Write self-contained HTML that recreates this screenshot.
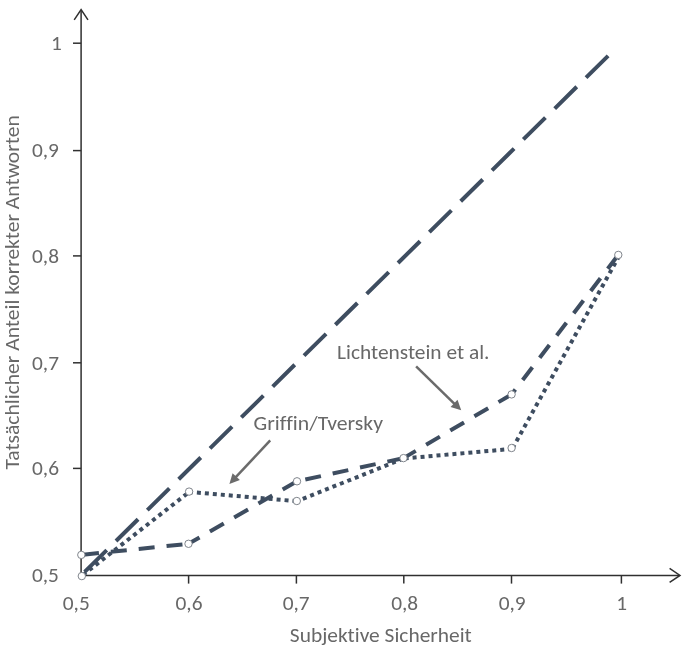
<!DOCTYPE html>
<html><head><meta charset="utf-8"><title>Chart</title>
<style>html,body{margin:0;padding:0;background:#fff;}svg{display:block;}</style>
</head><body>
<svg width="685" height="649" viewBox="0 0 685 649">
<rect width="685" height="649" fill="#fff"/>
<g stroke="#303030" stroke-width="1.5" fill="none">
<line x1="81.1" y1="575.4" x2="81.1" y2="10.4"/>
<line x1="81.1" y1="575.4" x2="679.2" y2="575.4"/>
<polyline points="74.2,19.8 81.1,9.7 88.0,19.8" stroke-linejoin="miter"/>
<polyline points="669.6,568.4 680.0,575.4 669.6,582.4" stroke-linejoin="miter"/>
<line x1="73" y1="468.4" x2="81.1" y2="468.4"/>
<line x1="73" y1="362.8" x2="81.1" y2="362.8"/>
<line x1="73" y1="255.9" x2="81.1" y2="255.9"/>
<line x1="73" y1="150.6" x2="81.1" y2="150.6"/>
<line x1="73" y1="43.2" x2="81.1" y2="43.2"/>
<line x1="188.6" y1="575.4" x2="188.6" y2="583.6"/>
<line x1="296.4" y1="575.4" x2="296.4" y2="583.6"/>
<line x1="403.8" y1="575.4" x2="403.8" y2="583.6"/>
<line x1="511.5" y1="575.4" x2="511.5" y2="583.6"/>
<line x1="621.4" y1="575.4" x2="621.4" y2="583.6"/>
</g>
<g font-family="Carlito, 'Liberation Sans', sans-serif" font-size="21.33" fill="#686868" style="font-variant-ligatures:none;font-kerning:normal">
<text x="58.9" y="582.2" text-anchor="end">0,5</text>
<text x="59.0" y="475.2" text-anchor="end">0,6</text>
<text x="59.0" y="369.6" text-anchor="end">0,7</text>
<text x="59.0" y="262.7" text-anchor="end">0,8</text>
<text x="58.9" y="157.4" text-anchor="end">0,9</text>
<text x="61.7" y="50.0" text-anchor="end">1</text>
<text x="76.3" y="609.6" text-anchor="middle">0,5</text>
<text x="189.0" y="609.6" text-anchor="middle">0,6</text>
<text x="296.2" y="609.6" text-anchor="middle">0,7</text>
<text x="404.7" y="609.6" text-anchor="middle">0,8</text>
<text x="512.2" y="609.6" text-anchor="middle">0,9</text>
<text x="621.7" y="609.6" text-anchor="middle">1</text>
<text x="380.8" y="641.6" text-anchor="middle" textLength="182" lengthAdjust="spacingAndGlyphs">Subjektive Sicherheit</text>
<text transform="translate(19.2 292.4) rotate(-90)" text-anchor="middle" textLength="354.3" lengthAdjust="spacingAndGlyphs">Tatsächlicher Anteil korrekter Antworten</text>
<text x="337" y="359.1" textLength="152.5" lengthAdjust="spacingAndGlyphs">Lichtenstein et al.</text>
<text x="253.6" y="429.7" textLength="129.4" lengthAdjust="spacingAndGlyphs">Griffin/Tversky</text>
</g>
<g fill="none" stroke="#3E4D60" stroke-width="4" stroke-linecap="butt">
<line x1="608.10" y1="55.90" x2="81.10" y2="575.40" stroke-dasharray="31,13" stroke-dashoffset="0"/>
<line x1="81.30" y1="554.90" x2="188.50" y2="543.80" stroke-dasharray="16,12" stroke-dashoffset="-1.7"/>
<line x1="297.00" y1="481.30" x2="188.50" y2="543.80" stroke-dasharray="16,12" stroke-dashoffset="-0.5"/>
<line x1="403.50" y1="458.10" x2="297.00" y2="481.30" stroke-dasharray="16,12" stroke-dashoffset="-0.5"/>
<line x1="511.60" y1="394.40" x2="403.50" y2="458.10" stroke-dasharray="16,12" stroke-dashoffset="0.8"/>
<line x1="618.30" y1="254.90" x2="511.60" y2="394.40" stroke-dasharray="16,12" stroke-dashoffset="-1.4"/>
<line x1="81.60" y1="576.00" x2="189.30" y2="491.90" stroke-dasharray="4,4" stroke-dashoffset="-1.7"/>
<line x1="297.00" y1="501.20" x2="189.30" y2="491.90" stroke-dasharray="4,4" stroke-dashoffset="-0.5"/>
<line x1="403.50" y1="458.50" x2="297.00" y2="501.20" stroke-dasharray="4,4" stroke-dashoffset="-0.5"/>
<line x1="512.20" y1="448.90" x2="403.50" y2="458.50" stroke-dasharray="4,4" stroke-dashoffset="0.0"/>
<line x1="619.50" y1="255.40" x2="512.20" y2="448.90" stroke-dasharray="4,4" stroke-dashoffset="-0.5"/>
</g>
<g fill="#fff" stroke="#80858c" stroke-width="1">
<circle cx="81.3" cy="554.9" r="3.7"/>
<circle cx="188.5" cy="543.8" r="3.7"/>
<circle cx="297.0" cy="481.3" r="3.7"/>
<circle cx="403.5" cy="458.1" r="3.7"/>
<circle cx="511.6" cy="394.4" r="3.7"/>
<circle cx="618.3" cy="254.9" r="3.7"/>
<circle cx="81.8" cy="576.1" r="3.7"/>
<circle cx="189.1" cy="491.6" r="3.7"/>
<circle cx="296.8" cy="501.0" r="3.7"/>
<circle cx="511.6" cy="448.0" r="3.7"/>
</g>
<line x1="416.1" y1="366.3" x2="454.76" y2="404.02" stroke="#6b6b6b" stroke-width="2.5"/><polygon points="461.20,410.30 450.55,406.90 457.53,399.74" fill="#6b6b6b"/>
<line x1="270.2" y1="440.4" x2="235.55" y2="477.43" stroke="#6b6b6b" stroke-width="2.5"/><polygon points="229.40,484.00 232.58,473.28 239.88,480.11" fill="#6b6b6b"/>
</svg>
</body></html>
